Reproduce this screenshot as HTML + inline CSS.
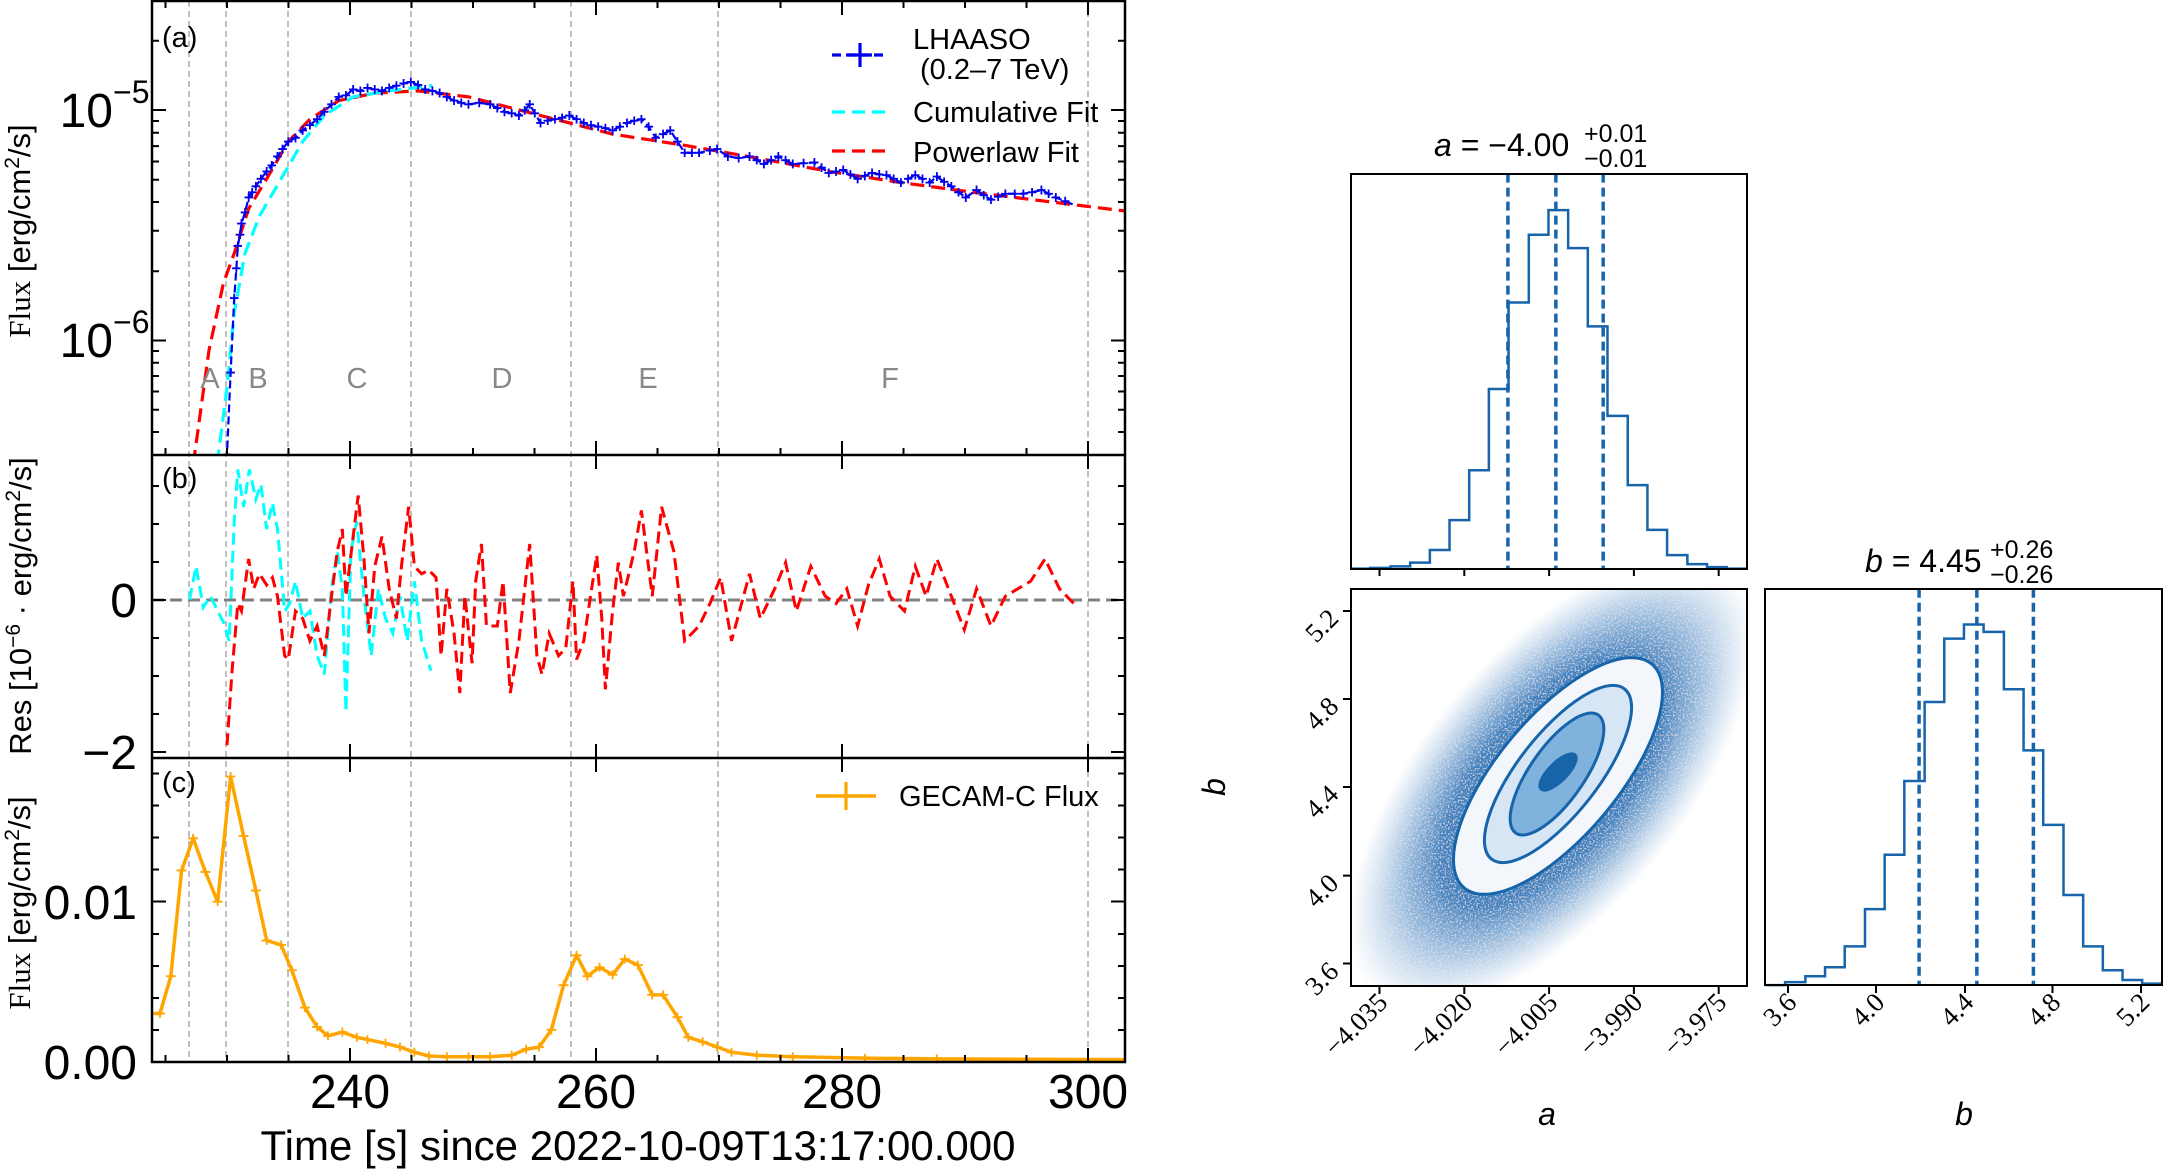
<!DOCTYPE html>
<html><head><meta charset="utf-8"><style>
html,body{margin:0;padding:0;background:#fff;}
svg{display:block;font-family:"Liberation Sans",sans-serif;}
</style></head><body>
<svg width="2164" height="1169" viewBox="0 0 2164 1169" xmlns="http://www.w3.org/2000/svg">
<defs>
<marker id="cr" viewBox="-6 -6 12 12" markerWidth="12" markerHeight="12" markerUnits="userSpaceOnUse"><path d="M-6 0H6M0-6V6" stroke="#0000ee" stroke-width="2.5"/></marker>
<marker id="co" viewBox="-7 -7 14 14" markerWidth="14" markerHeight="14" markerUnits="userSpaceOnUse"><path d="M-7 0H7M0-6V6" stroke="#ffa500" stroke-width="2.5"/></marker>
<radialGradient id="cloud" cx="0.5" cy="0.5" r="0.5">
<stop offset="0" stop-color="#1764ab" stop-opacity="0.95"/>
<stop offset="0.55" stop-color="#1f6db3" stop-opacity="0.85"/>
<stop offset="0.78" stop-color="#3a7fc0" stop-opacity="0.4"/>
<stop offset="1" stop-color="#6a9fd0" stop-opacity="0"/>
</radialGradient>
<filter id="grain" x="0" y="0" width="100%" height="100%">
<feTurbulence type="fractalNoise" baseFrequency="0.6" numOctaves="1" seed="3" result="n"/>
<feColorMatrix in="n" type="matrix" values="0 0 0 0 1  0 0 0 0 1  0 0 0 0 1  0 0 0 -2.5 1.25" result="m"/>
<feComposite in="m" in2="SourceGraphic" operator="in" result="w"/>
<feMerge><feMergeNode in="SourceGraphic"/><feMergeNode in="w"/></feMerge>
</filter>
<clipPath id="cpA"><rect x="152" y="1" width="973" height="454"/></clipPath>
<clipPath id="cpB"><rect x="152" y="455" width="973" height="303"/></clipPath>
<clipPath id="cpS"><rect x="1351" y="589" width="396" height="397"/></clipPath>
</defs>

<g stroke="#b0b0b0" stroke-width="1.6" stroke-dasharray="6,4">
<path d="M189 1V1062M226 1V1062M288 1V1062M411 1V1062M571 1V1062M718 1V1062M1088 1V1062"/>
</g>

<g clip-path="url(#cpA)">
<g transform="matrix(0.7207,0,0,0.7452,0,0)" fill="none">
<polyline vector-effect="non-scaling-stroke" stroke="#ff0000" stroke-width="3.2" stroke-dasharray="14,7" points="262,650 270,610 290,470 310,380 325,340 345,280 370,240 400,190 430,160 470,135 520,125 580,122 650,130 750,155 850,180 950,195 1050,212 1150,230 1250,245 1350,258 1450,270 1560,283"/>
<polyline vector-effect="non-scaling-stroke" stroke="#00ffff" stroke-width="3.2" stroke-dasharray="14,7" points="300,650 303,610 315,520 325,420 340,340 360,290 390,240 420,190 450,155 490,130 540,122 600,115"/>
<polyline vector-effect="non-scaling-stroke" stroke="#0000ee" stroke-width="2.2" stroke-dasharray="8,4" marker-mid="url(#cr)" points="314,650 315,610 320,500 325,400 328,360 330,330 333,315 335,300 340,285 345,265 350,258 355,250 362,240 370,230 377,222 385,210 392,200 400,190 410,185 420,175 430,168 440,160 450,150 460,140 470,130 480,128 490,120 500,122 510,118 520,120 530,122 540,118 550,115 560,112 570,110 580,114 590,120 600,122 610,125 620,130 630,135 640,138 650,140 665,138 680,140 690,145 700,150 710,152 720,155 728,148 735,140 742,152 750,165 760,162 770,160 780,158 790,155 800,160 810,165 820,168 830,170 840,172 850,175 860,170 870,165 880,162 890,160 900,170 910,185 920,180 930,175 940,190 950,205 960,205 970,205 985,202 995,200 1010,210 1025,212 1040,210 1050,215 1060,220 1070,215 1080,210 1090,215 1100,220 1115,219 1130,218 1140,225 1150,232 1160,230 1170,228 1180,234 1190,240 1200,236 1210,232 1220,234 1230,235 1240,240 1250,245 1260,240 1270,235 1280,240 1290,245 1300,237 1310,244 1320,250 1330,258 1340,265 1355,255 1365,262 1375,268 1385,264 1395,260 1408,260 1420,260 1432,258 1445,255 1455,260 1465,265 1478,270 1490,275"/>
</g></g>

<line x1="152" y1="600" x2="1125" y2="600" stroke="#808080" stroke-width="3" stroke-dasharray="12,6"/>
<g clip-path="url(#cpB)">
<g transform="matrix(0.7207,0,0,0.7452,0,0)" fill="none">
<polyline vector-effect="non-scaling-stroke" stroke="#00ffff" stroke-width="3" stroke-dasharray="12,6" points="263,805 272,760 282,815 292,800 302,820 310,835 318,860 325,700 330,630 338,680 346,630 355,670 362,650 370,710 378,675 385,710 395,820 402,810 410,780 420,830 430,820 440,880 450,905 460,790 468,740 475,790 480,955 487,740 495,700 505,800 515,880 525,790 535,830 545,850 555,800 565,860 575,780 585,860 598,900"/>
<polyline vector-effect="non-scaling-stroke" stroke="#ff0000" stroke-width="3" stroke-dasharray="12,6" points="315,1000 322,900 330,810 335,820 345,750 352,790 360,770 370,785 378,775 385,800 395,880 400,885 410,820 420,830 430,860 440,840 450,880 460,800 468,740 475,710 480,800 490,720 497,665 505,750 512,850 520,760 530,720 540,790 550,830 557,760 567,680 575,760 585,770 595,765 605,775 612,880 620,790 630,850 638,930 645,800 655,890 660,780 668,730 675,840 690,840 698,780 708,930 720,860 735,730 745,880 752,905 762,850 775,880 785,870 795,780 800,885 810,860 828,745 835,830 840,925 850,820 858,755 865,800 880,740 890,685 905,800 918,680 935,740 950,860 970,840 985,810 1000,775 1015,860 1040,770 1055,830 1075,790 1090,755 1105,820 1125,760 1145,800 1160,810 1175,790 1190,840 1205,785 1220,750 1235,800 1255,820 1270,760 1285,800 1300,750 1320,800 1338,845 1355,790 1375,840 1395,800 1430,780 1450,750 1470,790 1490,810"/>
</g></g>

<g transform="matrix(0.7207,0,0,0.7452,0,0)" fill="none">
<polyline vector-effect="non-scaling-stroke" stroke="#ffa500" stroke-width="3.5" marker-mid="url(#co)" points="213,1360 222,1360 237,1310 252,1168 268,1125 285,1170 302,1210 320,1042 338,1122 355,1195 370,1262 390,1268 405,1302 423,1352 440,1378 455,1390 475,1385 495,1392 510,1395 535,1400 555,1405 575,1412 595,1417 620,1418 650,1418 680,1418 710,1416 730,1408 748,1405 765,1382 782,1322 800,1282 815,1310 832,1298 850,1308 867,1287 885,1295 905,1335 920,1335 940,1365 955,1392 975,1398 995,1405 1015,1412 1050,1416 1100,1418 1200,1420 1300,1421 1560,1422"/>
</g>

<g fill="none" stroke="#000" stroke-width="2.5">
<rect x="152" y="1" width="973" height="1061"/>
<path d="M152 455H1125M152 758H1125"/>
</g>
<g stroke="#000" stroke-width="2">
<path d="M350 1062v-14M596 1062v-14M842 1062v-14M1088 1062v-14M350 758v-14M596 758v-14M842 758v-14M1088 758v-14M350 758v14M596 758v14M842 758v14M1088 758v14M350 455v-14M596 455v-14M842 455v-14M1088 455v-14M350 455v14M596 455v14M842 455v14M1088 455v14M350 1v14M596 1v14M842 1v14M1088 1v14"/>
<path d="M165.5 1062v-7M227 1062v-7M288.5 1062v-7M411.5 1062v-7M473 1062v-7M534.5 1062v-7M657.5 1062v-7M719 1062v-7M780.5 1062v-7M903.5 1062v-7M965 1062v-7M1026.5 1062v-7"/>
<path d="M165.5 455v-7M227 455v-7M288.5 455v-7M411.5 455v-7M473 455v-7M534.5 455v-7M657.5 455v-7M719 455v-7M780.5 455v-7M903.5 455v-7M965 455v-7M1026.5 455v-7"/>
<path d="M165.5 1v7M227 1v7M288.5 1v7M411.5 1v7M473 1v7M534.5 1v7M657.5 1v7M719 1v7M780.5 1v7M903.5 1v7M965 1v7M1026.5 1v7"/>
<path d="M152 110h14M152 340.5h14M1125 110h-14M1125 340.5h-14"/>
<path d="M152 40.8h7M152 271.3h7M152 230.8h7M152 202h7M152 179.7h7M152 161.5h7M152 146.1h7M152 132.8h7M152 121h7M152 351h7M152 362.8h7M152 376h7M152 391.5h7M152 409.7h7M152 432h7"/>
<path d="M1125 40.8h-7M1125 271.3h-7M1125 230.8h-7M1125 202h-7M1125 179.7h-7M1125 161.5h-7M1125 146.1h-7M1125 132.8h-7M1125 121h-7M1125 351h-7M1125 362.8h-7M1125 376h-7M1125 391.5h-7M1125 409.7h-7M1125 432h-7"/>
<path d="M152 600h14M152 752h14M1125 600h-14M1125 752h-14M152 486h7M152 524h7M152 562h7M152 638h7M152 676h7M152 714h7M1125 486h-7M1125 524h-7M1125 562h-7M1125 638h-7M1125 676h-7M1125 714h-7"/>
<path d="M152 901.5h14M152 1062h14M1125 901.5h-14M1125 1062h-14M152 1030h7M152 998h7M152 966h7M152 934h7M152 869.5h7M152 837.5h7M152 805.5h7M152 773.5h7M1125 1030h-7M1125 998h-7M1125 966h-7M1125 934h-7M1125 869.5h-7M1125 837.5h-7M1125 805.5h-7M1125 773.5h-7"/>
</g>

<g font-size="29" fill="#000">
<text x="162" y="47">(a)</text><text x="162" y="488">(b)</text><text x="162" y="792">(c)</text>
</g>
<g font-size="29" fill="#888" text-anchor="middle">
<text x="210" y="388">A</text><text x="258" y="388">B</text><text x="357" y="388">C</text><text x="502" y="388">D</text><text x="648" y="388">E</text><text x="890" y="388">F</text>
</g>
<g font-size="48" fill="#000" text-anchor="end">
<text x="113" y="127">10</text><text x="113" y="357">10</text>
<text x="137" y="617">0</text><text x="137" y="769">−2</text>
<text x="137" y="919">0.01</text><text x="137" y="1079">0.00</text>
</g>
<g font-size="32" fill="#000"><text x="113" y="103">−5</text><text x="113" y="333">−6</text></g>
<g font-size="48" fill="#000" text-anchor="middle">
<text x="350" y="1108">240</text><text x="596" y="1108">260</text><text x="842" y="1108">280</text><text x="1088" y="1108">300</text>
</g>
<text x="638" y="1160" font-size="42" text-anchor="middle">Time [s] since 2022-10-09T13:17:00.000</text>
<g font-size="31" fill="#000" text-anchor="middle">
<text transform="translate(30,231) rotate(-90)"><tspan font-family="Liberation Serif,serif">Flux</tspan> [erg/cm<tspan font-size="21" dy="-11">2</tspan><tspan dy="11">/s]</tspan></text>
<text transform="translate(31,606) rotate(-90)">Res [10<tspan font-size="21" dy="-11">−6</tspan><tspan dy="11"> · erg/cm</tspan><tspan font-size="21" dy="-11">2</tspan><tspan dy="11">/s]</tspan></text>
<text transform="translate(30,903) rotate(-90)"><tspan font-family="Liberation Serif,serif">Flux</tspan> [erg/cm<tspan font-size="21" dy="-11">2</tspan><tspan dy="11">/s]</tspan></text>
</g>
<g stroke-width="3.2">
<path d="M832 55H888" stroke="#0000ee" stroke-dasharray="9,5"/><path d="M860 43V67M848 55H872" stroke="#0000ee"/>
<path d="M832 112H888" stroke="#00ffff" stroke-dasharray="13,7"/>
<path d="M832 151H888" stroke="#ff0000" stroke-dasharray="13,7"/>
<path d="M816 796H876" stroke="#ffa500" stroke-width="3.5"/><path d="M846 782V810" stroke="#ffa500"/>
</g>
<g font-size="29" fill="#000">
<text x="913" y="49">LHAASO</text><text x="920" y="79">(0.2–7 TeV)</text>
<text x="913" y="122">Cumulative Fit</text><text x="913" y="162">Powerlaw Fit</text>
<text x="899" y="806">GECAM-C Flux</text>
</g>

<g clip-path="url(#cpS)">
<g filter="url(#grain)">
<ellipse cx="1552" cy="782" rx="275" ry="130" transform="rotate(-50 1552 782)" fill="url(#cloud)"/>
</g>
<ellipse cx="1558" cy="776" rx="146" ry="60" transform="rotate(-50 1558 776)" fill="#f3f7fc" stroke="#1764ab" stroke-width="3"/>
<ellipse cx="1558" cy="774" rx="108" ry="40" transform="rotate(-52 1558 774)" fill="#d6e6f4" stroke="#1764ab" stroke-width="3"/>
<ellipse cx="1557" cy="774" rx="72" ry="27" transform="rotate(-55 1557 774)" fill="#7fb2dc" stroke="#1764ab" stroke-width="3"/>
<ellipse cx="1558" cy="772" rx="24" ry="9" transform="rotate(-45 1558 772)" fill="#1764ab" stroke="#1764ab" stroke-width="3"/>
</g>
<rect x="1351" y="589" width="396" height="397" fill="none" stroke="#000" stroke-width="2"/>
<g transform="matrix(0.6146,0,0,0.7452,1200,0)" fill="none">
<polyline vector-effect="non-scaling-stroke" stroke="#1764ab" stroke-width="2.5" points="245,763 277,763 277,762 310,762 310,760 342,760 342,755 374,755 374,738 406,738 406,698 438,698 438,631 470,631 470,522 502,522 502,406 535,406 535,315 567,315 567,282 599,282 599,333 631,333 631,438 663,438 663,558 696,558 696,651 728,651 728,711 760,711 760,745 793,745 793,757 825,757 825,761 857,761 857,763 889,763"/>
<path vector-effect="non-scaling-stroke" stroke="#1764ab" stroke-width="3.5" stroke-dasharray="9,5" d="M501 233V763M579 233V763M656 233V763"/>
<polyline vector-effect="non-scaling-stroke" stroke="#1764ab" stroke-width="2.5" points="920,1322 952,1322 952,1318 985,1318 985,1310 1017,1310 1017,1298 1049,1298 1049,1270 1082,1270 1082,1220 1114,1220 1114,1147 1146,1147 1146,1048 1179,1048 1179,942 1211,942 1211,857 1243,857 1243,838 1275,838 1275,848 1308,848 1308,925 1340,925 1340,1007 1372,1007 1372,1107 1405,1107 1405,1201 1437,1201 1437,1270 1469,1270 1469,1302 1501,1302 1501,1315 1533,1315 1533,1320 1565,1320"/>
<path vector-effect="non-scaling-stroke" stroke="#1764ab" stroke-width="3.5" stroke-dasharray="9,5" d="M1170 790V1322M1264 790V1322M1356 790V1322"/>
</g>
<rect x="1351" y="174" width="396" height="395" fill="none" stroke="#000" stroke-width="2"/>
<rect x="1765" y="589" width="397" height="396" fill="none" stroke="#000" stroke-width="2"/>
<g stroke="#000" stroke-width="2">
<path d="M1379.5 569v7M1464.3 569v7M1549.1 569v7M1633.9 569v7M1718.7 569v7"/>
<path d="M1379.5 986v8M1464.3 986v8M1549.1 986v8M1633.9 986v8M1718.7 986v8"/>
<path d="M1351 611h-8M1351 699h-8M1351 787h-8M1351 875.6h-8M1351 963.5h-8"/>
<path d="M1788 985v8M1876 985v8M1965 985v8M2052.5 985v8M2141 985v8"/>
</g>
<g font-family="Liberation Serif,serif" font-size="27" text-anchor="end" fill="#000">
<text transform="translate(1389,1004) rotate(-45)">−4.035</text>
<text transform="translate(1474,1004) rotate(-45)">−4.020</text>
<text transform="translate(1559,1004) rotate(-45)">−4.005</text>
<text transform="translate(1644,1004) rotate(-45)">−3.990</text>
<text transform="translate(1728,1004) rotate(-45)">−3.975</text>
<text transform="translate(1798,1004) rotate(-45)">3.6</text>
<text transform="translate(1886,1004) rotate(-45)">4.0</text>
<text transform="translate(1975,1004) rotate(-45)">4.4</text>
<text transform="translate(2062,1004) rotate(-45)">4.8</text>
<text transform="translate(2151,1004) rotate(-45)">5.2</text>
<text transform="translate(1340,620) rotate(-45)">5.2</text>
<text transform="translate(1340,708) rotate(-45)">4.8</text>
<text transform="translate(1340,796) rotate(-45)">4.4</text>
<text transform="translate(1340,885) rotate(-45)">4.0</text>
<text transform="translate(1340,973) rotate(-45)">3.6</text>
</g>
<g font-size="32" fill="#000">
<text x="1434" y="156"><tspan font-style="italic">a</tspan> = −4.00</text>
<text x="1584" y="142" font-size="25">+0.01</text><text x="1584" y="167" font-size="25">−0.01</text>
<text x="1865" y="572"><tspan font-style="italic">b</tspan> = 4.45</text>
<text x="1990" y="558" font-size="25">+0.26</text><text x="1990" y="583" font-size="25">−0.26</text>
</g>
<g font-size="32" font-style="italic" fill="#000" text-anchor="middle">
<text x="1547" y="1125">a</text><text x="1964" y="1125">b</text>
<text transform="translate(1225,787) rotate(-90)">b</text>
</g>
</svg>
</body></html>
